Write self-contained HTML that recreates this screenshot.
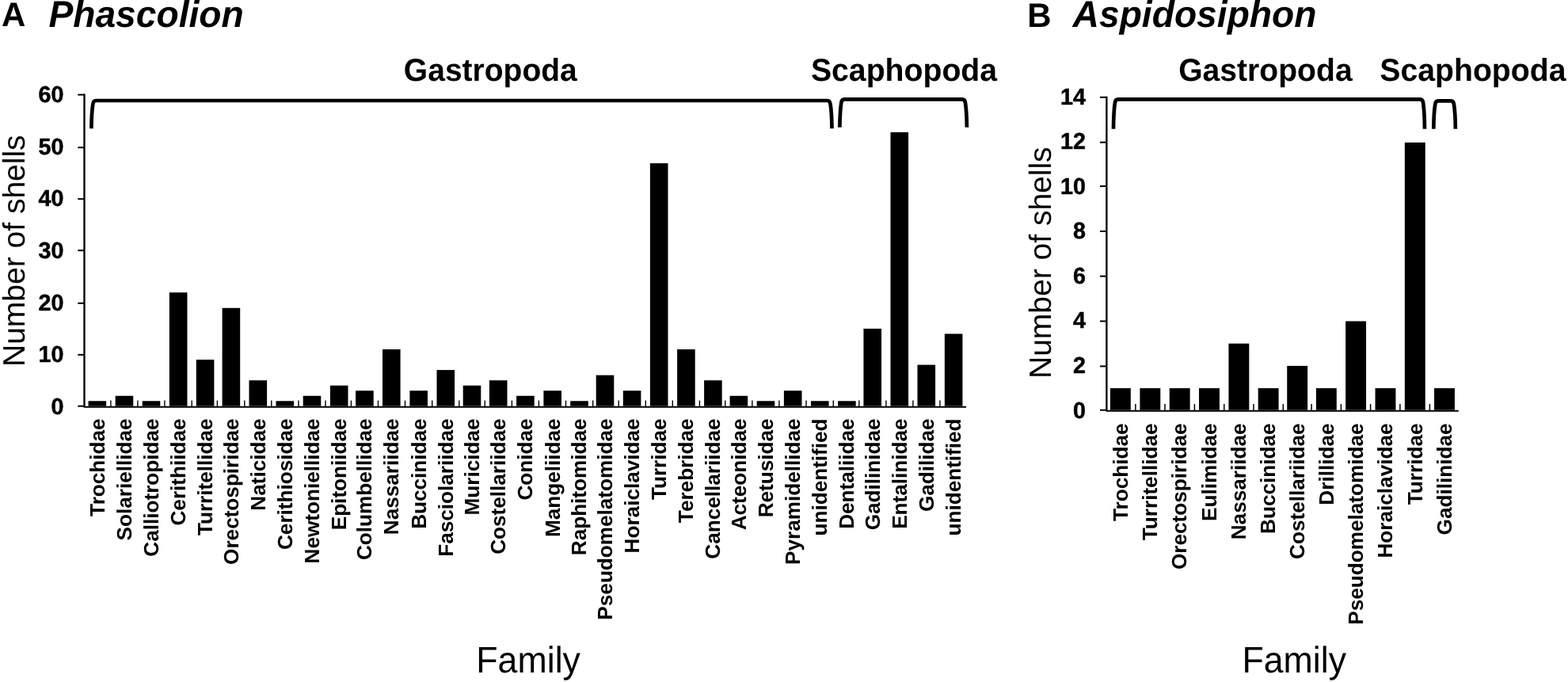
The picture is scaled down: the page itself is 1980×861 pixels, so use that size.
<!DOCTYPE html>
<html><head><meta charset="utf-8"><title>Phascolion and Aspidosiphon shell families</title>
<style>
html,body{margin:0;padding:0;background:#fff;}
body{width:1980px;height:861px;overflow:hidden;}
svg{display:block;}
text{font-family:"Liberation Sans",Arial,sans-serif;fill:#000;text-rendering:geometricPrecision;}
.yl{font-size:29px;font-weight:bold;stroke:#000;stroke-width:0.5px;}
.xl{font-size:26.15px;font-weight:bold;}
.grp{font-size:40px;font-weight:bold;}
.pl{font-size:42px;font-weight:bold;}
.ti{font-size:46.2px;font-weight:bold;font-style:italic;}
.at{font-size:39px;}
.fam{font-size:46px;}
</style></head>
<body>
<svg width="1980" height="861" viewBox="0 0 1980 861">
<rect width="1980" height="861" fill="#fff"/>
<rect x="111.55" y="506.27" width="22.6" height="6.43"/>
<rect x="145.65" y="499.75" width="22.6" height="12.95"/>
<rect x="179.7" y="506.27" width="22.6" height="6.43"/>
<rect x="213.85" y="369.25" width="22.6" height="143.45"/>
<rect x="247.8" y="454.07" width="22.6" height="58.63"/>
<rect x="280.6" y="388.82" width="22.6" height="123.88"/>
<rect x="314.5" y="480.17" width="22.6" height="32.53"/>
<rect x="348.5" y="506.27" width="22.6" height="6.43"/>
<rect x="382.7" y="499.75" width="22.6" height="12.95"/>
<rect x="416.9" y="486.7" width="22.6" height="26"/>
<rect x="449.1" y="493.22" width="22.6" height="19.48"/>
<rect x="483" y="441.02" width="22.6" height="71.68"/>
<rect x="517.4" y="493.22" width="22.6" height="19.48"/>
<rect x="551.5" y="467.12" width="22.6" height="45.58"/>
<rect x="584.7" y="486.7" width="22.6" height="26"/>
<rect x="617.9" y="480.17" width="22.6" height="32.53"/>
<rect x="652.1" y="499.75" width="22.6" height="12.95"/>
<rect x="686.4" y="493.22" width="22.6" height="19.48"/>
<rect x="720.2" y="506.27" width="22.6" height="6.43"/>
<rect x="752.7" y="473.65" width="22.6" height="39.05"/>
<rect x="786.8" y="493.22" width="22.6" height="19.48"/>
<rect x="820.9" y="206.12" width="22.6" height="306.58"/>
<rect x="855.1" y="441.02" width="22.6" height="71.68"/>
<rect x="889.1" y="480.17" width="22.6" height="32.53"/>
<rect x="921.6" y="499.75" width="22.6" height="12.95"/>
<rect x="955.7" y="506.27" width="22.6" height="6.43"/>
<rect x="989.9" y="493.22" width="22.6" height="19.48"/>
<rect x="1024" y="506.27" width="22.6" height="6.43"/>
<rect x="1058.1" y="506.27" width="22.6" height="6.43"/>
<rect x="1090.45" y="414.92" width="22.6" height="97.78"/>
<rect x="1124.5" y="166.97" width="22.6" height="345.73"/>
<rect x="1158.5" y="460.6" width="22.6" height="52.1"/>
<rect x="1192.85" y="421.45" width="22.6" height="91.25"/>
<line x1="139.9" y1="505.6" x2="139.9" y2="513.75" stroke="#000" stroke-width="1.4"/>
<line x1="173.9" y1="505.6" x2="173.9" y2="513.75" stroke="#000" stroke-width="1.4"/>
<line x1="207.9" y1="505.6" x2="207.9" y2="513.75" stroke="#000" stroke-width="1.4"/>
<line x1="242.2" y1="505.6" x2="242.2" y2="513.75" stroke="#000" stroke-width="1.4"/>
<line x1="274.4" y1="505.6" x2="274.4" y2="513.75" stroke="#000" stroke-width="1.4"/>
<line x1="308.8" y1="505.6" x2="308.8" y2="513.75" stroke="#000" stroke-width="1.4"/>
<line x1="342.8" y1="505.6" x2="342.8" y2="513.75" stroke="#000" stroke-width="1.4"/>
<line x1="377" y1="505.6" x2="377" y2="513.75" stroke="#000" stroke-width="1.4"/>
<line x1="411" y1="505.6" x2="411" y2="513.75" stroke="#000" stroke-width="1.4"/>
<line x1="443.4" y1="505.6" x2="443.4" y2="513.75" stroke="#000" stroke-width="1.4"/>
<line x1="477.5" y1="505.6" x2="477.5" y2="513.75" stroke="#000" stroke-width="1.4"/>
<line x1="511.5" y1="505.6" x2="511.5" y2="513.75" stroke="#000" stroke-width="1.4"/>
<line x1="545.7" y1="505.6" x2="545.7" y2="513.75" stroke="#000" stroke-width="1.4"/>
<line x1="579.8" y1="505.6" x2="579.8" y2="513.75" stroke="#000" stroke-width="1.4"/>
<line x1="612.3" y1="505.6" x2="612.3" y2="513.75" stroke="#000" stroke-width="1.4"/>
<line x1="646.4" y1="505.6" x2="646.4" y2="513.75" stroke="#000" stroke-width="1.4"/>
<line x1="680.4" y1="505.6" x2="680.4" y2="513.75" stroke="#000" stroke-width="1.4"/>
<line x1="714.5" y1="505.6" x2="714.5" y2="513.75" stroke="#000" stroke-width="1.4"/>
<line x1="748.7" y1="505.6" x2="748.7" y2="513.75" stroke="#000" stroke-width="1.4"/>
<line x1="781.2" y1="505.6" x2="781.2" y2="513.75" stroke="#000" stroke-width="1.4"/>
<line x1="815.3" y1="505.6" x2="815.3" y2="513.75" stroke="#000" stroke-width="1.4"/>
<line x1="849.3" y1="505.6" x2="849.3" y2="513.75" stroke="#000" stroke-width="1.4"/>
<line x1="883.4" y1="505.6" x2="883.4" y2="513.75" stroke="#000" stroke-width="1.4"/>
<line x1="915.8" y1="505.6" x2="915.8" y2="513.75" stroke="#000" stroke-width="1.4"/>
<line x1="949.9" y1="505.6" x2="949.9" y2="513.75" stroke="#000" stroke-width="1.4"/>
<line x1="983.9" y1="505.6" x2="983.9" y2="513.75" stroke="#000" stroke-width="1.4"/>
<line x1="1018" y1="505.6" x2="1018" y2="513.75" stroke="#000" stroke-width="1.4"/>
<line x1="1052.3" y1="505.6" x2="1052.3" y2="513.75" stroke="#000" stroke-width="1.4"/>
<line x1="1084.8" y1="505.6" x2="1084.8" y2="513.75" stroke="#000" stroke-width="1.4"/>
<line x1="1118.9" y1="505.6" x2="1118.9" y2="513.75" stroke="#000" stroke-width="1.4"/>
<line x1="1152.9" y1="505.6" x2="1152.9" y2="513.75" stroke="#000" stroke-width="1.4"/>
<line x1="1186.9" y1="505.6" x2="1186.9" y2="513.75" stroke="#000" stroke-width="1.4"/>
<line x1="106.5" y1="513.75" x2="1220.1" y2="513.75" stroke="#000" stroke-width="1.8"/>
<line x1="106.5" y1="118.6" x2="106.5" y2="514.55" stroke="#000" stroke-width="2.3"/>
<line x1="98.3" y1="512.7" x2="106.5" y2="512.7" stroke="#000" stroke-width="2"/>
<text transform="translate(80.4,522.8) scale(0.99,1.0)" class="yl" text-anchor="end">0</text>
<line x1="98.3" y1="447.9" x2="106.5" y2="447.9" stroke="#000" stroke-width="2"/>
<text transform="translate(80.4,457.17) scale(0.99,1.0)" class="yl" text-anchor="end">10</text>
<line x1="98.3" y1="382.8" x2="106.5" y2="382.8" stroke="#000" stroke-width="2"/>
<text transform="translate(80.4,391.54) scale(0.99,1.0)" class="yl" text-anchor="end">20</text>
<line x1="98.3" y1="316.2" x2="106.5" y2="316.2" stroke="#000" stroke-width="2"/>
<text transform="translate(80.4,325.91) scale(0.99,1.0)" class="yl" text-anchor="end">30</text>
<line x1="98.3" y1="251.2" x2="106.5" y2="251.2" stroke="#000" stroke-width="2"/>
<text transform="translate(80.4,260.28) scale(0.99,1.0)" class="yl" text-anchor="end">40</text>
<line x1="98.3" y1="186.2" x2="106.5" y2="186.2" stroke="#000" stroke-width="2"/>
<text transform="translate(80.4,194.65) scale(0.99,1.0)" class="yl" text-anchor="end">50</text>
<line x1="98.3" y1="119.6" x2="106.5" y2="119.6" stroke="#000" stroke-width="2"/>
<text transform="translate(80.4,129.02) scale(0.99,1.0)" class="yl" text-anchor="end">60</text>
<text transform="translate(131.65,528.4) rotate(-90)" class="xl" text-anchor="end">Trochidae</text>
<text transform="translate(165.75,528.4) rotate(-90)" class="xl" text-anchor="end">Solariellidae</text>
<text transform="translate(199.8,528.4) rotate(-90)" class="xl" text-anchor="end">Calliotropidae</text>
<text transform="translate(233.95,528.4) rotate(-90)" class="xl" text-anchor="end">Cerithiidae</text>
<text transform="translate(267.9,528.4) rotate(-90)" class="xl" text-anchor="end">Turritellidae</text>
<text transform="translate(300.7,528.4) rotate(-90)" class="xl" text-anchor="end">Orectospiridae</text>
<text transform="translate(334.6,528.4) rotate(-90)" class="xl" text-anchor="end">Naticidae</text>
<text transform="translate(368.6,528.4) rotate(-90)" class="xl" text-anchor="end">Cerithiosidae</text>
<text transform="translate(402.8,528.4) rotate(-90)" class="xl" text-anchor="end">Newtoniellidae</text>
<text transform="translate(437,528.4) rotate(-90)" class="xl" text-anchor="end">Epitoniidae</text>
<text transform="translate(469.2,528.4) rotate(-90)" class="xl" text-anchor="end">Columbellidae</text>
<text transform="translate(503.1,528.4) rotate(-90)" class="xl" text-anchor="end">Nassariidae</text>
<text transform="translate(537.5,528.4) rotate(-90)" class="xl" text-anchor="end">Buccinidae</text>
<text transform="translate(571.6,528.4) rotate(-90)" class="xl" text-anchor="end">Fasciolariidae</text>
<text transform="translate(604.8,528.4) rotate(-90)" class="xl" text-anchor="end">Muricidae</text>
<text transform="translate(638,528.4) rotate(-90)" class="xl" text-anchor="end">Costellariidae</text>
<text transform="translate(672.2,528.4) rotate(-90)" class="xl" text-anchor="end">Conidae</text>
<text transform="translate(706.5,528.4) rotate(-90)" class="xl" text-anchor="end">Mangeliidae</text>
<text transform="translate(740.3,528.4) rotate(-90)" class="xl" text-anchor="end">Raphitomidae</text>
<text transform="translate(772.8,528.4) rotate(-90)" class="xl" text-anchor="end">Pseudomelatomidae</text>
<text transform="translate(806.9,528.4) rotate(-90)" class="xl" text-anchor="end">Horaiclavidae</text>
<text transform="translate(841,528.4) rotate(-90)" class="xl" text-anchor="end">Turridae</text>
<text transform="translate(875.2,528.4) rotate(-90)" class="xl" text-anchor="end">Terebridae</text>
<text transform="translate(909.2,528.4) rotate(-90)" class="xl" text-anchor="end">Cancellariidae</text>
<text transform="translate(941.7,528.4) rotate(-90)" class="xl" text-anchor="end">Acteonidae</text>
<text transform="translate(975.8,528.4) rotate(-90)" class="xl" text-anchor="end">Retusidae</text>
<text transform="translate(1010,528.4) rotate(-90)" class="xl" text-anchor="end">Pyramidellidae</text>
<text transform="translate(1044.1,528.4) rotate(-90)" class="xl" text-anchor="end">unidentified</text>
<text transform="translate(1078.2,528.4) rotate(-90)" class="xl" text-anchor="end">Dentaliidae</text>
<text transform="translate(1110.55,528.4) rotate(-90)" class="xl" text-anchor="end">Gadilinidae</text>
<text transform="translate(1144.6,528.4) rotate(-90)" class="xl" text-anchor="end">Entalinidae</text>
<text transform="translate(1178.6,528.4) rotate(-90)" class="xl" text-anchor="end">Gadilidae</text>
<text transform="translate(1212.95,528.4) rotate(-90)" class="xl" text-anchor="end">unidentified</text>
<rect x="1401.9" y="490.1" width="25.9" height="27.6"/>
<rect x="1439.4" y="490.1" width="25.9" height="27.6"/>
<rect x="1476.75" y="490.1" width="25.9" height="27.6"/>
<rect x="1514.05" y="490.1" width="25.9" height="27.6"/>
<rect x="1551.45" y="433.7" width="25.9" height="84"/>
<rect x="1588.7" y="490.1" width="25.9" height="27.6"/>
<rect x="1625.25" y="461.9" width="25.9" height="55.8"/>
<rect x="1661.9" y="490.1" width="25.9" height="27.6"/>
<rect x="1699.15" y="405.5" width="25.9" height="112.2"/>
<rect x="1736.55" y="490.1" width="25.9" height="27.6"/>
<rect x="1773.85" y="179.9" width="25.9" height="337.8"/>
<rect x="1811.05" y="490.1" width="25.9" height="27.6"/>
<line x1="1433.9" y1="510.1" x2="1433.9" y2="518.75" stroke="#000" stroke-width="1.5"/>
<line x1="1471" y1="510.1" x2="1471" y2="518.75" stroke="#000" stroke-width="1.5"/>
<line x1="1508.4" y1="510.1" x2="1508.4" y2="518.75" stroke="#000" stroke-width="1.5"/>
<line x1="1545.8" y1="510.1" x2="1545.8" y2="518.75" stroke="#000" stroke-width="1.5"/>
<line x1="1583" y1="510.1" x2="1583" y2="518.75" stroke="#000" stroke-width="1.5"/>
<line x1="1620.3" y1="510.1" x2="1620.3" y2="518.75" stroke="#000" stroke-width="1.5"/>
<line x1="1656.1" y1="510.1" x2="1656.1" y2="518.75" stroke="#000" stroke-width="1.5"/>
<line x1="1693.4" y1="510.1" x2="1693.4" y2="518.75" stroke="#000" stroke-width="1.5"/>
<line x1="1730.6" y1="510.1" x2="1730.6" y2="518.75" stroke="#000" stroke-width="1.5"/>
<line x1="1767.9" y1="510.1" x2="1767.9" y2="518.75" stroke="#000" stroke-width="1.5"/>
<line x1="1805.4" y1="510.1" x2="1805.4" y2="518.75" stroke="#000" stroke-width="1.5"/>
<line x1="1397.4" y1="518.75" x2="1841.8" y2="518.75" stroke="#000" stroke-width="1.8"/>
<line x1="1397.4" y1="121.8" x2="1397.4" y2="519.55" stroke="#000" stroke-width="2.3"/>
<line x1="1389" y1="517.7" x2="1397.4" y2="517.7" stroke="#000" stroke-width="2"/>
<text transform="translate(1371,527.65) scale(0.99,1.0)" class="yl" text-anchor="end">0</text>
<line x1="1389" y1="462.4" x2="1397.4" y2="462.4" stroke="#000" stroke-width="2"/>
<text transform="translate(1371,471.07) scale(0.99,1.0)" class="yl" text-anchor="end">2</text>
<line x1="1389" y1="405.5" x2="1397.4" y2="405.5" stroke="#000" stroke-width="2"/>
<text transform="translate(1371,414.49) scale(0.99,1.0)" class="yl" text-anchor="end">4</text>
<line x1="1389" y1="348.7" x2="1397.4" y2="348.7" stroke="#000" stroke-width="2"/>
<text transform="translate(1371,357.91) scale(0.99,1.0)" class="yl" text-anchor="end">6</text>
<line x1="1389" y1="292" x2="1397.4" y2="292" stroke="#000" stroke-width="2"/>
<text transform="translate(1371,301.33) scale(0.99,1.0)" class="yl" text-anchor="end">8</text>
<line x1="1389" y1="235.1" x2="1397.4" y2="235.1" stroke="#000" stroke-width="2"/>
<text transform="translate(1371,244.75) scale(0.99,1.0)" class="yl" text-anchor="end">10</text>
<line x1="1389" y1="179.7" x2="1397.4" y2="179.7" stroke="#000" stroke-width="2"/>
<text transform="translate(1371,188.17) scale(0.99,1.0)" class="yl" text-anchor="end">12</text>
<line x1="1389" y1="122.8" x2="1397.4" y2="122.8" stroke="#000" stroke-width="2"/>
<text transform="translate(1371,131.59) scale(0.99,1.0)" class="yl" text-anchor="end">14</text>
<text transform="translate(1423.55,534.5) rotate(-90)" class="xl" text-anchor="end">Trochidae</text>
<text transform="translate(1461.05,534.5) rotate(-90)" class="xl" text-anchor="end">Turritellidae</text>
<text transform="translate(1498.4,534.5) rotate(-90)" class="xl" text-anchor="end">Orectospiridae</text>
<text transform="translate(1535.7,534.5) rotate(-90)" class="xl" text-anchor="end">Eulimidae</text>
<text transform="translate(1573.1,534.5) rotate(-90)" class="xl" text-anchor="end">Nassariidae</text>
<text transform="translate(1610.35,534.5) rotate(-90)" class="xl" text-anchor="end">Buccinidae</text>
<text transform="translate(1646.9,534.5) rotate(-90)" class="xl" text-anchor="end">Costellariidae</text>
<text transform="translate(1683.55,534.5) rotate(-90)" class="xl" text-anchor="end">Drillidae</text>
<text transform="translate(1720.8,534.5) rotate(-90)" class="xl" text-anchor="end">Pseudomelatomidae</text>
<text transform="translate(1758.2,534.5) rotate(-90)" class="xl" text-anchor="end">Horaiclavidae</text>
<text transform="translate(1795.5,534.5) rotate(-90)" class="xl" text-anchor="end">Turridae</text>
<text transform="translate(1832.7,534.5) rotate(-90)" class="xl" text-anchor="end">Gadilinidae</text>
<path d="M115.4,162.3 C115.6,143 116.6,136 117.3,131.5 Q118,127 120.9,127 L1045,127 Q1047.9,127 1048.6,131.5 C1049.3,136 1050.3,143 1050.5,162.3" fill="none" stroke="#000" stroke-width="4.7" stroke-linejoin="round"/>
<path d="M1060.4,160.8 C1060.6,141.4 1061.6,134.4 1062.3,129.9 Q1063,125.4 1065.9,125.4 L1215.4,125.4 Q1218.3,125.4 1219,129.9 C1219.7,134.4 1220.7,141.4 1220.9,160.8" fill="none" stroke="#000" stroke-width="4.7" stroke-linejoin="round"/>
<path d="M1406,162.7 C1406.2,141.3 1407.2,134.3 1407.9,129.8 Q1408.6,125.3 1411.5,125.3 L1793.5,125.3 Q1796.4,125.3 1797.1,129.8 C1797.8,134.3 1798.8,141.3 1799,162.7" fill="none" stroke="#000" stroke-width="4.7" stroke-linejoin="round"/>
<path d="M1810.3,162.7 C1810.5,143.3 1811.5,136.3 1812.2,131.8 Q1812.9,127.3 1815.8,127.3 L1832.4,127.3 Q1835.3,127.3 1836,131.8 C1836.7,136.3 1837.7,143.3 1837.9,162.7" fill="none" stroke="#000" stroke-width="4.7" stroke-linejoin="round"/>
<text transform="translate(619.3,101.8) scale(0.975,1)" class="grp" text-anchor="middle">Gastropoda</text>
<text transform="translate(1141.5,101.8) scale(0.98,1)" class="grp" text-anchor="middle">Scaphopoda</text>
<text transform="translate(1597.9,101.7) scale(0.978,1)" class="grp" text-anchor="middle">Gastropoda</text>
<text transform="translate(1859.9,101.7) scale(0.98,1)" class="grp" text-anchor="middle">Scaphopoda</text>
<text transform="translate(2.0,33) scale(1,1.02)" class="pl">A</text>
<text transform="translate(61.4,33.9) scale(1,1.02)" class="ti">Phascolion</text>
<text transform="translate(1297.3,33.7) scale(1,1.02)" class="pl">B</text>
<text transform="translate(1354.6,34.1) scale(1,1.02)" class="ti">Aspidosiphon</text>
<text transform="translate(31,316.7) rotate(-90)" class="at" text-anchor="middle">Number of shells</text>
<text transform="translate(1327.2,331.7) rotate(-90)" class="at" text-anchor="middle">Number of shells</text>
<text transform="translate(667.1,848.9) scale(0.972,1.01)" class="fam" text-anchor="middle">Family</text>
<text transform="translate(1634.2,848.9) scale(0.972,1.01)" class="fam" text-anchor="middle">Family</text>
</svg>
</body></html>
